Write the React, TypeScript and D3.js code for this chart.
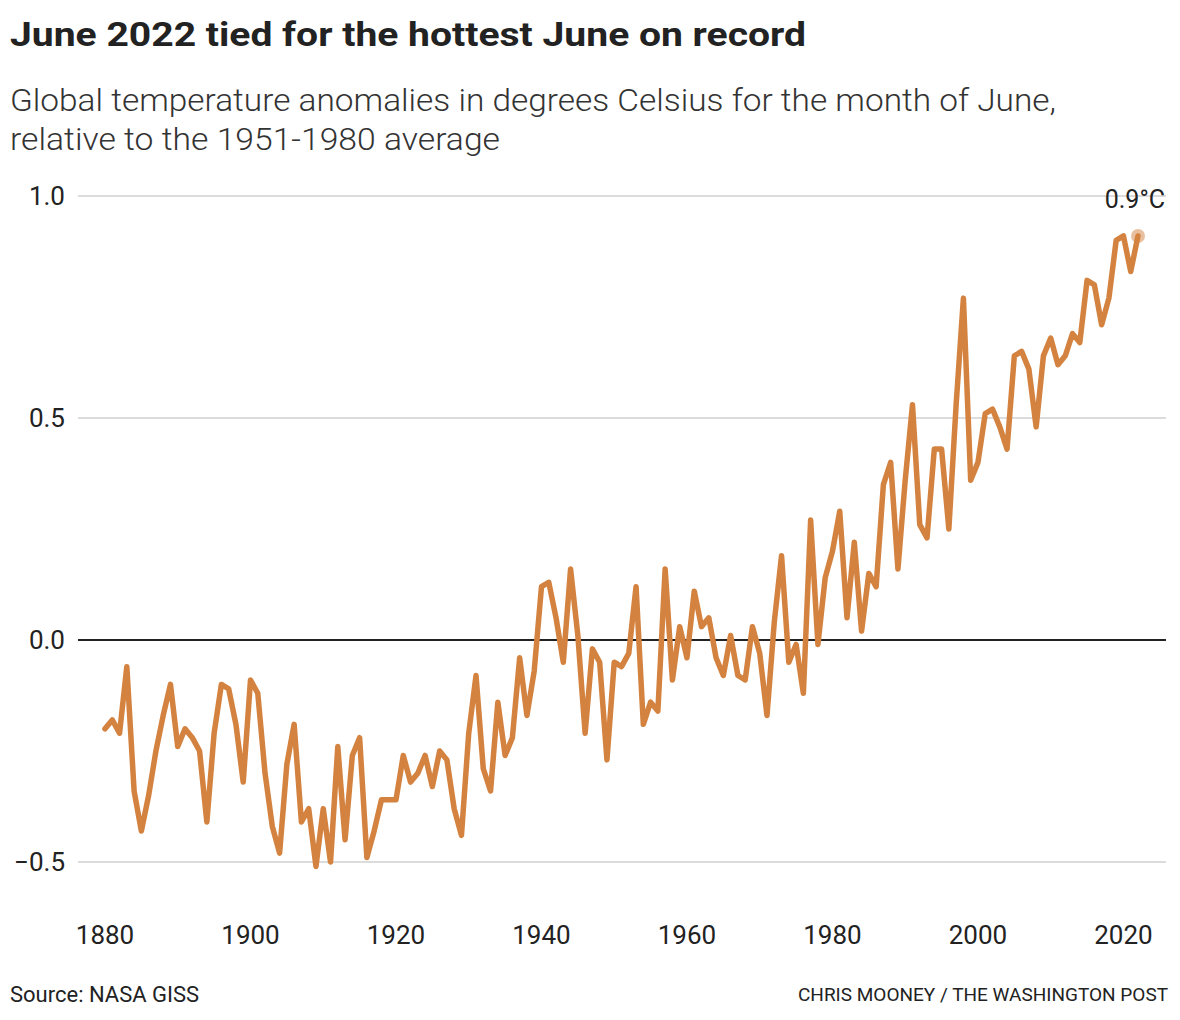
import React, { useEffect, useRef } from 'react';
import * as d3 from 'd3';

// June global temperature anomalies (°C vs 1951-1980), NASA GISS
const startYear = 1880;
const anomalies = [
    -0.20, -0.18, -0.21, -0.06, -0.34, -0.43, -0.35, -0.25, -0.17, -0.10, // 1880s
    -0.24, -0.20, -0.22, -0.25, -0.41, -0.21, -0.10, -0.11, -0.19, -0.32, // 1890s
    -0.09, -0.12, -0.30, -0.42, -0.48, -0.28, -0.19, -0.41, -0.38, -0.51, // 1900s
    -0.38, -0.50, -0.24, -0.45, -0.26, -0.22, -0.49, -0.43, -0.36, -0.36, // 1910s
    -0.36, -0.26, -0.32, -0.30, -0.26, -0.33, -0.25, -0.27, -0.38, -0.44, // 1920s
    -0.21, -0.08, -0.29, -0.34, -0.14, -0.26, -0.22, -0.04, -0.17, -0.07, // 1930s
    0.12, 0.13, 0.05, -0.05, 0.16, 0.01, -0.21, -0.02, -0.05, -0.27,      // 1940s
    -0.05, -0.06, -0.03, 0.12, -0.19, -0.14, -0.16, 0.16, -0.09, 0.03,    // 1950s
    -0.04, 0.11, 0.03, 0.05, -0.04, -0.08, 0.01, -0.08, -0.09, 0.03,      // 1960s
    -0.03, -0.17, 0.04, 0.19, -0.05, -0.01, -0.12, 0.27, -0.01, 0.14,     // 1970s
    0.20, 0.29, 0.05, 0.22, 0.02, 0.15, 0.12, 0.35, 0.40, 0.16,           // 1980s
    0.36, 0.53, 0.26, 0.23, 0.43, 0.43, 0.25, 0.53, 0.77, 0.36,           // 1990s
    0.40, 0.51, 0.52, 0.48, 0.43, 0.64, 0.65, 0.61, 0.48, 0.64,           // 2000s
    0.68, 0.62, 0.64, 0.69, 0.67, 0.81, 0.80, 0.71, 0.77, 0.90,           // 2010s
    0.91, 0.83, 0.91                                                      // 2020s
];
const xTicks = [1880, 1900, 1920, 1940, 1960, 1980, 2000, 2020];
const yTicks = [-0.5, 0, 0.5, 1.0];
const yTickLabels = ['\u22120.5', '0.0', '0.5', '1.0'];
const endLabel = '0.9°C';

const title = 'June 2022 tied for the hottest June on record';
const subtitleLines = [
    'Global temperature anomalies in degrees Celsius for the month of June,',
    'relative to the 1951-1980 average'
];
const sourceText = 'Source: NASA GISS';
const creditText = 'CHRIS MOONEY / THE WASHINGTON POST';

const W = 1180;
const H = 1020;
const FONT = 'Roboto, "Noto Sans", sans-serif';
const LINE_COLOR = '#d4823f';

const App: React.FC = () => {
    const svgRef = useRef<SVGSVGElement>(null);

    useEffect(() => {
        if (!svgRef.current) return;
        const svg = d3.select(svgRef.current);
        svg.selectAll('*').remove();

        const data = anomalies.map((v, i) => ({ year: startYear + i, value: v }));
        const lastYear = startYear + anomalies.length - 1;

        const plot = { left: 78, right: 1166 };
        const xScale = d3.scaleLinear().domain([startYear, lastYear]).range([105, 1138]);
        const yScale = d3.scaleLinear().domain([-0.5, 1.0]).range([862, 196]);

        // header (widths matched to the original's Franklin type)
        svg.append('text')
            .attr('x', 10)
            .attr('y', 46)
            .attr('fill', '#222')
            .attr('textLength', 796)
            .attr('lengthAdjust', 'spacingAndGlyphs')
            .style('font-family', FONT)
            .style('font-size', '33px')
            .style('font-weight', 'bold')
            .text(title);

        const subWidths = [1046, 490];
        subtitleLines.forEach((line, i) => {
            svg.append('text')
                .attr('x', 10)
                .attr('y', 111 + i * 39)
                .attr('fill', '#333')
                .attr('textLength', subWidths[i])
                .attr('lengthAdjust', 'spacingAndGlyphs')
                .style('font-family', FONT)
                .style('font-size', '31px')
                .style('font-weight', 300)
                .text(line);
        });

        // gridlines
        const g = svg.append('g');
        g.selectAll('line.grid')
            .data(yTicks)
            .join('line')
            .attr('class', 'grid')
            .attr('x1', plot.left)
            .attr('x2', plot.right)
            .attr('y1', d => yScale(d))
            .attr('y2', d => yScale(d))
            .attr('stroke', d => (d === 0 ? '#222' : '#dcdcdc'))
            .attr('stroke-width', 2);

        g.selectAll('text.ylab')
            .data(yTicks)
            .join('text')
            .attr('class', 'ylab')
            .attr('x', 65)
            .attr('y', d => yScale(d))
            .attr('dy', '0.36em')
            .attr('text-anchor', 'end')
            .attr('fill', '#222')
            .style('font-family', FONT)
            .style('font-size', '26px')
            .text((d, i) => yTickLabels[i]);

        g.selectAll('text.xlab')
            .data(xTicks)
            .join('text')
            .attr('class', 'xlab')
            .attr('x', d => xScale(d))
            .attr('y', 944)
            .attr('text-anchor', 'middle')
            .attr('fill', '#222')
            .style('font-family', FONT)
            .style('font-size', '26px')
            .text(d => d);

        // the line
        const line = d3.line<{ year: number; value: number }>()
            .x(d => xScale(d.year))
            .y(d => yScale(d.value));

        g.append('path')
            .datum(data)
            .attr('d', line)
            .attr('fill', 'none')
            .attr('stroke', LINE_COLOR)
            .attr('stroke-width', 5.5)
            .attr('stroke-linejoin', 'round')
            .attr('stroke-linecap', 'round');

        const last = data[data.length - 1];
        g.append('circle')
            .attr('cx', xScale(last.year))
            .attr('cy', yScale(last.value))
            .attr('r', 7)
            .attr('fill', LINE_COLOR)
            .attr('opacity', 0.5);

        g.append('text')
            .attr('x', 1165)
            .attr('y', 208)
            .attr('text-anchor', 'end')
            .attr('fill', '#222')
            .style('font-family', FONT)
            .style('font-size', '25px')
            .text(endLabel);

        // footer
        svg.append('text')
            .attr('x', 10)
            .attr('y', 1002)
            .attr('fill', '#222')
            .style('font-family', FONT)
            .style('font-size', '22px')
            .text(sourceText);

        svg.append('text')
            .attr('x', 1168)
            .attr('y', 1001)
            .attr('text-anchor', 'end')
            .attr('fill', '#222')
            .style('font-family', FONT)
            .style('font-size', '19px')
            .text(creditText);
    }, []);

    return (
        <svg
            ref={svgRef}
            width={W}
            height={H}
            style={{ position: 'absolute', left: 0, top: 0, background: '#fff' }}
        />
    );
};

export default App;
